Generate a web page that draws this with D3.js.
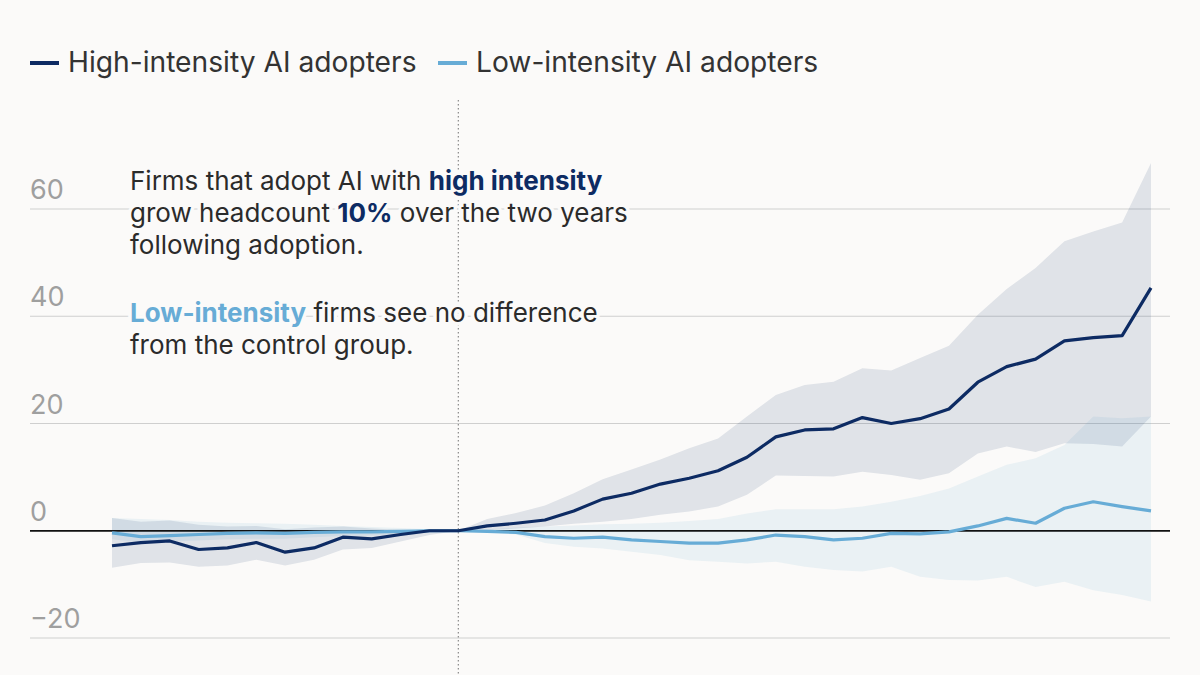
<!DOCTYPE html>
<html>
<head>
<meta charset="utf-8">
<script src="https://cdn.jsdelivr.net/npm/d3@7"></script>
<style>
  html, body { margin: 0; padding: 0; background: #fbfaf9; }
  svg { display: block; font-family: Inter, "Liberation Sans", Arial, sans-serif; }
</style>
</head>
<body>
<div id="chart"></div>
<script>
// months relative to adoption
var months = [-12,-11,-10,-9,-8,-7,-6,-5,-4,-3,-2,-1,0,
  1,2,3,4,5,6,7,8,9,10,11,12,13,14,15,16,17,18,19,20,21,22,23,24];

// high-intensity adopters (estimate + 95% band)
var high = [-2.8,-2.2,-1.9,-3.5,-3.2,-2.2,-4.0,-3.2,-1.2,-1.5,-0.7,0.0,0,
  0.9,1.4,2.0,3.7,5.9,7.0,8.7,9.8,11.2,13.7,17.5,18.8,
  19.0,21.1,20.0,20.9,22.7,27.7,30.6,32.0,35.4,36.0,36.4,45.3];
var highUpper = [2.4,1.7,1.9,1.1,0.8,0.9,0.3,0.6,0.8,0.4,0.2,0.1,0,
  2.2,3.3,4.7,7.0,9.6,11.4,13.3,15.4,17.2,21.3,25.3,27.2,
  27.8,30.3,29.9,32.2,34.5,40.3,45.1,49.0,54.0,55.8,57.5,68.6];
var highLower = [-6.9,-6.0,-5.9,-6.7,-6.5,-5.4,-6.5,-5.4,-3.5,-3.2,-2.0,-0.8,0,
  0.1,0.4,0.8,1.3,1.7,2.2,3.0,3.6,4.5,6.7,10.3,10.2,
  10.1,11.0,10.4,9.5,10.7,14.4,15.7,14.7,16.3,16.2,15.7,21.3];

// low-intensity adopters
var low = [-0.4,-1.1,-0.9,-0.7,-0.5,-0.4,-0.5,-0.3,-0.2,-0.2,-0.1,0,0,
  -0.1,-0.3,-1.1,-1.4,-1.2,-1.7,-2.0,-2.3,-2.3,-1.7,-0.8,-1.1,
  -1.7,-1.4,-0.5,-0.6,-0.2,0.9,2.3,1.4,4.2,5.4,4.5,3.7];
var lowUpper = [2.4,2.2,2.0,1.7,1.5,1.4,1.3,1.1,0.9,0.7,0.5,0.3,0,
  0.3,0.6,0.8,1.0,1.2,1.3,1.5,1.8,2.2,3.2,4.0,4.0,
  4.0,4.5,5.4,6.5,7.9,10.1,12.3,13.5,16.0,21.3,21.0,21.3];
var lowLower = [-1.6,-2.2,-2.0,-1.8,-1.6,-1.5,-1.5,-1.2,-1.0,-0.9,-0.6,-0.3,0,
  -0.3,-0.7,-2.3,-3.0,-3.3,-3.9,-4.5,-5.5,-5.8,-6.1,-5.8,-6.7,
  -7.3,-7.6,-6.7,-8.6,-9.2,-9.3,-8.6,-10.5,-9.5,-11.1,-12.0,-13.2];

var yTicks = [-20, 0, 20, 40, 60];

var w = 1200, h = 675;
var navy = "#0d2b63", sky = "#67acd6";

var svg = d3.select("#chart").append("svg")
  .attr("width", w)
  .attr("height", h);

svg.append("rect").attr("width", w).attr("height", h).attr("fill", "#fbfaf9");

var x = d3.scaleLinear().domain([-12, 24]).range([112, 1151]);
var y = d3.scaleLinear().domain([-20, 60]).range([638, 209]);

// grid
var grid = svg.append("g");
yTicks.forEach(function(t) {
  grid.append("line")
    .attr("x1", 30).attr("x2", 1170)
    .attr("y1", y(t)).attr("y2", y(t))
    .attr("stroke", t === 0 ? "#111" : "#cfcfcf")
    .attr("stroke-width", t === 0 ? 1.6 : 1.2);
  grid.append("text")
    .attr("x", 30).attr("y", y(t) - 10)
    .attr("font-size", 27)
    .attr("fill", "#9f9f9f")
    .text(t < 0 ? "\u2212" + Math.abs(t) : t);
});

var idx = d3.range(months.length);

function band(up, lo) {
  return d3.area()
    .x(function(i) { return x(months[i]); })
    .y0(function(i) { return y(lo[i]); })
    .y1(function(i) { return y(up[i]); });
}
function line(vals) {
  return d3.line()
    .x(function(i) { return x(months[i]); })
    .y(function(i) { return y(vals[i]); });
}

svg.append("path").attr("d", band(lowUpper, lowLower)(idx))
  .attr("fill", sky).attr("fill-opacity", 0.11);
svg.append("path").attr("d", band(highUpper, highLower)(idx))
  .attr("fill", navy).attr("fill-opacity", 0.11);

// zero line above the bands
svg.append("line")
  .attr("x1", 30).attr("x2", 1170)
  .attr("y1", y(0)).attr("y2", y(0))
  .attr("stroke", "#111").attr("stroke-width", 1.6);

// adoption marker
svg.append("line")
  .attr("x1", x(0)).attr("x2", x(0))
  .attr("y1", 100).attr("y2", h)
  .attr("stroke", "#8a8a8a").attr("stroke-width", 1.2)
  .attr("stroke-dasharray", "1.5,2.5");

svg.append("path").attr("d", line(low)(idx))
  .attr("fill", "none").attr("stroke", sky).attr("stroke-width", 3.2)
  .attr("stroke-linejoin", "round");
svg.append("path").attr("d", line(high)(idx))
  .attr("fill", "none").attr("stroke", navy).attr("stroke-width", 3.2)
  .attr("stroke-linejoin", "round");

// legend
var legend = [
  {label: "High-intensity AI adopters", color: navy, x: 30},
  {label: "Low-intensity AI adopters", color: sky, x: 438}
];
legend.forEach(function(d) {
  svg.append("line")
    .attr("x1", d.x).attr("x2", d.x + 29)
    .attr("y1", 63).attr("y2", 63)
    .attr("stroke", d.color).attr("stroke-width", 4);
  svg.append("text")
    .attr("x", d.x + 38).attr("y", 72)
    .attr("font-size", 28.2)
    .attr("fill", "#333")
    .text(d.label);
});

// annotation
var note = [
  {y: 190, parts: [["Firms that adopt AI with ", "#2b2b2b", 400], ["high intensity", navy, 700]]},
  {y: 222, parts: [["grow headcount ", "#2b2b2b", 400], ["10%", navy, 700], [" over the two years", "#2b2b2b", 400]]},
  {y: 254, parts: [["following adoption.", "#2b2b2b", 400]]},
  {y: 322, parts: [["Low-intensity", sky, 700], [" firms see no difference", "#2b2b2b", 400]]},
  {y: 354, parts: [["from the control group.", "#2b2b2b", 400]]}
];
note.forEach(function(l) {
  var t = svg.append("text")
    .attr("x", 130).attr("y", l.y)
    .attr("font-size", 26)
    .attr("stroke", "#fbfaf9").attr("stroke-width", 7)
    .attr("stroke-linejoin", "round")
    .attr("paint-order", "stroke");
  l.parts.forEach(function(p) {
    t.append("tspan").attr("fill", p[1]).attr("font-weight", p[2]).text(p[0]);
  });
});
</script>
</body>
</html>
